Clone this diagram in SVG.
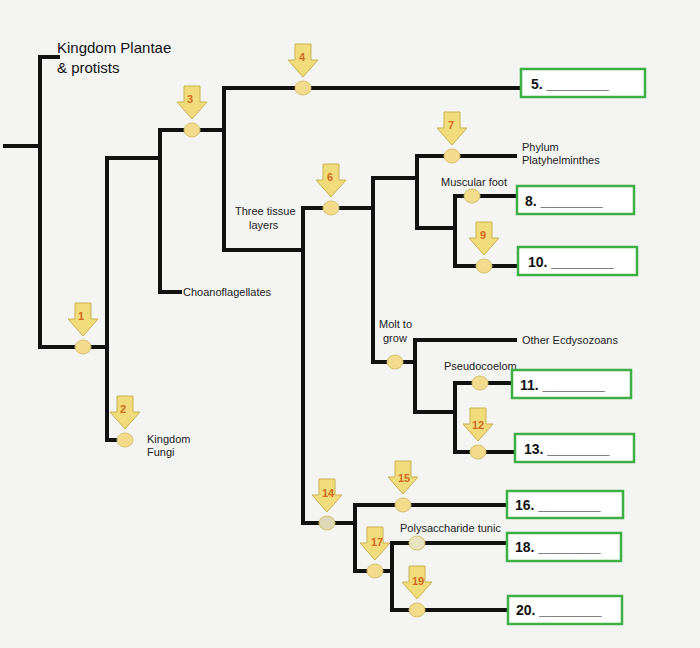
<svg xmlns="http://www.w3.org/2000/svg" xmlns:xlink="http://www.w3.org/1999/xlink" width="700" height="648" viewBox="0 0 700 648">
<style>
.br{stroke:#111;stroke-width:4;fill:none;stroke-linecap:square}
.dot{fill:#f2dc8c;stroke:#d6c070;stroke-width:1}
.box{fill:#fff;stroke:#3cb043;stroke-width:2.5}
.lab{font-family:"Liberation Sans",Arial,sans-serif;font-size:11px;fill:#222}
.big{font-family:"Liberation Sans",Arial,sans-serif;font-size:15px;fill:#111}
.bl{font-family:"Liberation Sans",Arial,sans-serif;font-size:14px;font-weight:bold;fill:#111}
.num{font-family:"Liberation Sans",Arial,sans-serif;font-size:11px;font-weight:bold;fill:#d2691e;text-anchor:middle}
</style>
<defs>
<path id="arr" d="M-8,-44 H8 V-28 H15 L0,-11 L-15,-28 H-8 Z" fill="#f0dc7a" stroke="#c8b050" stroke-width="1"/>
</defs>
<rect width="700" height="648" fill="#f4f5f3"/>
<g id="connectors">
<path class="br" d="M5,146 H40 M40,57 V347 M40,57 H58 M40,347 H107 M107,158 V440 M107,440 H125 M107,158 H160 M160,130 V292 M160,292 H180 M160,130 H224 M224,88 V250 M224,88 H520 M224,250 H303 M303,208 V523 M303,208 H373 M373,178 V362 M373,178 H417 M417,156 V228 M417,156 H515 M417,228 H455 M455,196 V266 M455,196 H517 M455,266 H517 M373,362 H415 M415,340 V412 M415,340 H515 M415,412 H455 M455,383 V452 M455,383 H512 M455,452 H515 M303,523 H355 M355,505 V571 M355,505 H507 M355,571 H392 M392,543 V610 M392,543 H507 M392,610 H508"/>
</g>
<g id="nodes">
<g id="n1"><use href="#arr" x="83" y="347"/><text class="num" x="81" y="320">1</text><ellipse class="dot" cx="83" cy="347" rx="8" ry="7"/></g>
<g id="n2"><use href="#arr" x="125" y="440"/><text class="num" x="123" y="413">2</text><ellipse class="dot" cx="125" cy="440" rx="8" ry="7"/></g>
<g id="n3"><use href="#arr" x="192" y="130"/><text class="num" x="190" y="103">3</text><ellipse class="dot" cx="192" cy="130" rx="8" ry="7"/></g>
<g id="n4"><use href="#arr" x="303" y="88"/><text class="num" x="302" y="61">4</text><ellipse class="dot" cx="303" cy="88" rx="8" ry="7"/></g>
<g id="n6"><use href="#arr" x="331" y="208"/><text class="num" x="330" y="181">6</text><ellipse class="dot" cx="331" cy="208" rx="8" ry="7"/></g>
<g id="n7"><use href="#arr" x="452" y="156"/><text class="num" x="451" y="129">7</text><ellipse class="dot" cx="452" cy="156" rx="8" ry="7"/></g>
<g id="nmf"><ellipse class="dot" cx="472" cy="196" rx="8" ry="7"/><text class="lab" x="441" y="186">Muscular foot</text></g>
<g id="n9"><use href="#arr" x="484" y="266"/><text class="num" x="483" y="239">9</text><ellipse class="dot" cx="484" cy="266" rx="8" ry="7"/></g>
<g id="nmolt"><ellipse class="dot" cx="395" cy="362" rx="8" ry="7"/><text class="lab" x="379" y="328">Molt to</text><text class="lab" x="383" y="342">grow</text></g>
<g id="npc"><ellipse class="dot" cx="480" cy="383" rx="8" ry="7"/><text class="lab" x="444" y="370">Pseudocoelom</text></g>
<g id="n12"><use href="#arr" x="478" y="452"/><text class="num" x="478" y="429">12</text><ellipse class="dot" cx="478" cy="452" rx="8" ry="7"/></g>
<g id="n14"><use href="#arr" x="327" y="523"/><text class="num" x="328" y="497">14</text><ellipse class="dot" cx="327" cy="523" rx="8" ry="7" style="fill:#ddd8b8"/></g>
<g id="n15"><use href="#arr" x="403" y="505"/><text class="num" x="404" y="482">15</text><ellipse class="dot" cx="403" cy="505" rx="8" ry="7"/></g>
<g id="ntunic"><ellipse class="dot" cx="417" cy="543" rx="8" ry="7" style="fill:#e8e4c0"/><text class="lab" x="400" y="532">Polysaccharide tunic</text></g>
<g id="n17"><use href="#arr" x="375" y="571"/><text class="num" x="377" y="546">17</text><ellipse class="dot" cx="375" cy="571" rx="8" ry="7"/></g>
<g id="n19"><use href="#arr" x="417" y="610"/><text class="num" x="418" y="585">19</text><ellipse class="dot" cx="417" cy="610" rx="8" ry="7"/></g>
</g>
<g id="labels">
<text class="big" x="57" y="53">Kingdom Plantae</text>
<text class="big" x="57" y="73">&amp; protists</text>
<text class="lab" x="183" y="296">Choanoflagellates</text>
<text class="lab" x="147" y="443">Kingdom</text>
<text class="lab" x="147" y="456">Fungi</text>
<text class="lab" x="235" y="215">Three tissue</text>
<text class="lab" x="249" y="229">layers</text>
<text class="lab" x="522" y="151">Phylum</text>
<text class="lab" x="522" y="164">Platyhelminthes</text>
<text class="lab" x="522" y="344">Other Ecdysozoans</text>
</g>
<g id="boxes">
<g id="b5"><rect class="box" x="521" y="69" width="124" height="28"/><text class="bl" x="531" y="89">5. ________</text></g>
<g id="b8"><rect class="box" x="517" y="186" width="117" height="28"/><text class="bl" x="525" y="206">8. ________</text></g>
<g id="b10"><rect class="box" x="518" y="247" width="119" height="28"/><text class="bl" x="528" y="267">10. ________</text></g>
<g id="b11"><rect class="box" x="512" y="370" width="119" height="28"/><text class="bl" x="520" y="390">11. ________</text></g>
<g id="b13"><rect class="box" x="515" y="434" width="119" height="28"/><text class="bl" x="524" y="454">13. ________</text></g>
<g id="b16"><rect class="box" x="507" y="491" width="116" height="27"/><text class="bl" x="515" y="510">16. ________</text></g>
<g id="b18"><rect class="box" x="507" y="533" width="114" height="28"/><text class="bl" x="515" y="552">18. ________</text></g>
<g id="b20"><rect class="box" x="508" y="596" width="114" height="28"/><text class="bl" x="516" y="615">20. ________</text></g>
</g>
</svg>
